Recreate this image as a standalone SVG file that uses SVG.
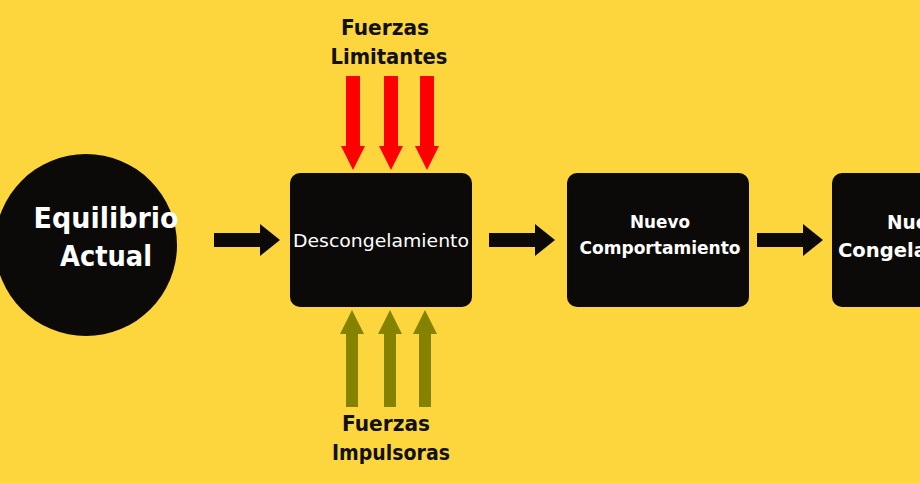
<svg xmlns="http://www.w3.org/2000/svg" width="920" height="483" viewBox="0 0 920 483">
<style>
.box{fill:#0b0a08}
.t{font-family:"DejaVu Sans","Liberation Sans",sans-serif;fill:#fff;text-anchor:middle}
.lbl{font-family:"DejaVu Sans","Liberation Sans",sans-serif;fill:#111;text-anchor:middle;font-size:21px;font-weight:bold}
.red{fill:#ff0000}.olv{fill:#858200}.blk{fill:#0b0a08}
</style>
<rect width="920" height="483" fill="#fdd63e"/>
<g id="equilibrio"><circle class="box" cx="86" cy="245" r="91"/>
<text class="t" x="106" y="228" font-size="29" font-weight="bold" textLength="145" lengthAdjust="spacingAndGlyphs">Equilibrio</text>
<text class="t" x="106" y="266" font-size="29" font-weight="bold" textLength="92" lengthAdjust="spacingAndGlyphs">Actual</text></g>
<g id="descongelamiento"><rect class="box" x="290" y="173" width="182" height="134" rx="10"/>
<text class="t" x="381" y="247" font-size="18" textLength="176" lengthAdjust="spacingAndGlyphs">Descongelamiento</text></g>
<g id="nuevo-comportamiento"><rect class="box" x="567" y="173" width="182" height="134" rx="10"/>
<text class="t" x="660" y="228" font-size="17" font-weight="bold" textLength="60" lengthAdjust="spacingAndGlyphs">Nuevo</text>
<text class="t" x="660" y="254" font-size="17" font-weight="bold" textLength="161" lengthAdjust="spacingAndGlyphs">Comportamiento</text></g>
<g id="nuevo-congelamiento"><rect class="box" x="832" y="173" width="182" height="134" rx="10"/>
<text class="t" x="920" y="229" font-size="20" font-weight="bold" textLength="66" lengthAdjust="spacingAndGlyphs">Nuevo</text>
<text class="t" x="921" y="257" font-size="20" font-weight="bold" textLength="166" lengthAdjust="spacingAndGlyphs">Congelamiento</text></g>
<g id="fuerzas-limitantes"><text class="lbl" x="385" y="35" textLength="88" lengthAdjust="spacingAndGlyphs">Fuerzas</text><text class="lbl" x="389" y="64" textLength="117" lengthAdjust="spacingAndGlyphs">Limitantes</text></g>
<g id="fuerzas-impulsoras"><text class="lbl" x="386" y="431" textLength="88" lengthAdjust="spacingAndGlyphs">Fuerzas</text><text class="lbl" x="391" y="460" textLength="118" lengthAdjust="spacingAndGlyphs">Impulsoras</text></g>
<g id="connectors">
<polygon class="blk" points="214,233 260,233 260,224 280,240 260,256 260,247 214,247"/>
<polygon class="blk" points="489,233 535,233 535,224 555,240 535,256 535,247 489,247"/>
<polygon class="blk" points="757,233 803,233 803,224 823,240 803,256 803,247 757,247"/>
<polygon class="red" points="346,76 360,76 360,146 365,146 353,170 341,146 346,146"/>
<polygon class="red" points="384,76 398,76 398,146 403,146 391,170 379,146 384,146"/>
<polygon class="red" points="420,76 434,76 434,146 439,146 427,170 415,146 420,146"/>
<polygon class="olv" points="346,407 358,407 358,334 364,334 352,310 340,334 346,334"/>
<polygon class="olv" points="384,407 396,407 396,334 402,334 390,310 378,334 384,334"/>
<polygon class="olv" points="419,407 431,407 431,334 437,334 425,310 413,334 419,334"/>
</g>
</svg>
